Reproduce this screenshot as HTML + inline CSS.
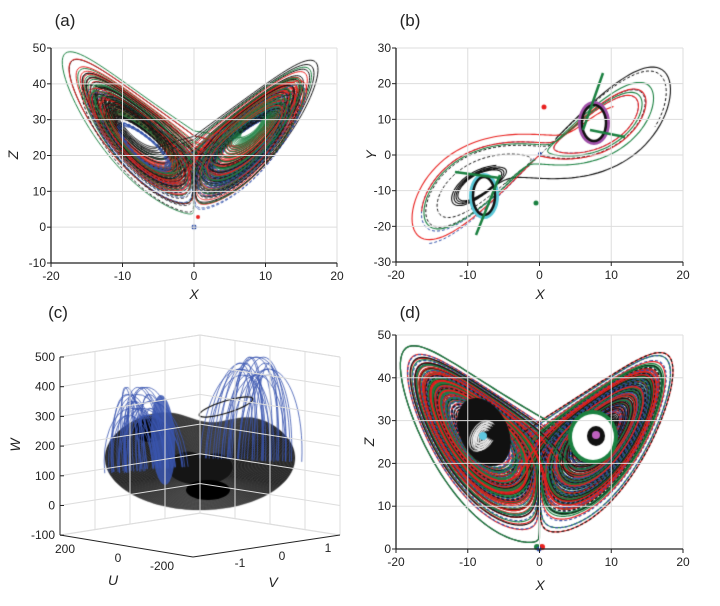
<!DOCTYPE html>
<html><head><meta charset="utf-8"><style>
html,body{margin:0;padding:0;background:#fff;}
#w{position:relative;width:720px;height:606px;overflow:hidden;font-family:"Liberation Sans",sans-serif;}
canvas,svg{position:absolute;left:0;top:0;}
</style></head><body><div id="w">
<canvas id="c" width="720" height="606"></canvas>
<svg id="s" width="720" height="606" font-family="Liberation Sans, sans-serif" font-size="12" fill="#222"></svg>
</div>
<script>
const cv=document.getElementById('c'),g=cv.getContext('2d');
const S=document.getElementById('s');let svg='';
function T(x,y,t,a,extra){svg+=`<text x="${x}" y="${y}" text-anchor="${a||'middle'}" ${extra||''}>${t}</text>`;}
function L(x1,y1,x2,y2,c,w){svg+=`<line x1="${x1}" y1="${y1}" x2="${x2}" y2="${y2}" stroke="${c}" stroke-width="${w||1}"/>`;}
function axes(l,r,t,b,xt,yt){
  const nx=xt.length,ny=yt.length;
  for(let i=0;i<nx;i++){const x=l+(r-l)*i/(nx-1);L(x,t,x,b,'#ddd');T(x,b+17,xt[i]);L(x,b,x,b+4,'#222');}
  for(let j=0;j<ny;j++){const y=t+(b-t)*j/(ny-1);L(l,y,r,y,'#ddd');T(l-5,y+4,yt[j],'end');L(l-4,y,l,y,'#222');}
  L(l,t,l,b,'#222',1.3);L(l,b,r,b,'#222',1.3);
}
function lorenz(x,y,z,n,dt,r){const out=[];r=r||28;
  for(let i=0;i<n;i++){const f=(a,b,c)=>[10*(b-a),a*(r-c)-b,a*b-8/3*c];
    const k1=f(x,y,z),k2=f(x+dt/2*k1[0],y+dt/2*k1[1],z+dt/2*k1[2]),k3=f(x+dt/2*k2[0],y+dt/2*k2[1],z+dt/2*k2[2]),k4=f(x+dt*k3[0],y+dt*k3[1],z+dt*k3[2]);
    x+=dt/6*(k1[0]+2*k2[0]+2*k3[0]+k4[0]);y+=dt/6*(k1[1]+2*k2[1]+2*k3[1]+k4[1]);z+=dt/6*(k1[2]+2*k2[2]+2*k3[2]+k4[2]);out.push([x,y,z]);}
  return out;}
function draw(pts,mx,my,col,w,dash){g.save();g.beginPath();g.strokeStyle=col;g.lineWidth=w;g.setLineDash(dash||[]);
  pts.forEach((p,i)=>{const X=mx(p),Y=my(p);i?g.lineTo(X,Y):g.moveTo(X,Y);});g.stroke();g.restore();}
function mix(trajs,cols,mx,my,w,chunk){const n=Math.max(...trajs.map(t=>t.length));
  for(let s=0;s<n;s+=chunk){trajs.forEach((t,i)=>{if(s<t.length)draw(t.slice(s,s+chunk+1),mx,my,cols[i][0],w,cols[i][1]);});}}
function dot(x,y,r,c){g.beginPath();g.fillStyle=c;g.arc(x,y,r,0,7);g.fill();}
const base=lorenz(1,1,20,60000,0.005,28).slice(500);
// panel a
{const l=51,r=337,t=48,b=263;axes(l,r,t,b,['-20','-10','0','10','20'],['50','40','30','20','10','0','-10']);
 const mx=p=>l+(p[0]*0.95+20)*(r-l)/40, my=p=>t+(50-(p[2]*0.8+2+Math.abs(p[0])*0.5))*(b-t)/60;
 g.save();g.beginPath();g.rect(l,t,r-l,b-t);g.clip();
 const sp=[[-10,-12,35,22],[10,12,35,22.5],[-6,-6,30,23],[8,9,30,23.5],[-12,-5,35,24],[12,5,35,24.5]];
 const tr=sp.map(s=>lorenz(s[0],s[1],s[2],6000,0.005,s[3]));
 tr.push(base.slice(2000,8000),base.slice(10000,16000),base.slice(18000,23000));
 const sc=[['#3050a8',[3,2]],['#111',[3,2]],['#111',[3,2]],['#3050a8',[3,2]],['#1a8040',[]],['#e8201e',[]],['#111',[]],['#1a8040',[]],['#e8201e',[]]];
 mix(tr,sc,mx,my,1,300);
 g.restore();dot(194,227,2.5,'#3050a8');dot(198,217,2,'#e8201e');
 T(65,26,'(a)','middle','font-size="17"');T(194,299,'X','middle','font-size="14" font-style="italic"');
 T(0,0,'Z','middle','font-size="14" font-style="italic" transform="translate(18,155) rotate(-90)"');}
// panel b
{const l=396,r=683,t=48,b=262;axes(l,r,t,b,['-20','-10','0','10','20'],['30','20','10','0','-10','-20','-30']);
 const mx=p=>l+(p[0]+20)*(r-l)/40, my=p=>t+(30-p[1])*(b-t)/60;
 g.save();g.beginPath();g.rect(l,t,r-l,b-t);g.clip();
 draw(base.slice(3000,3600),mx,my,'#3050a8',1,[3,2]);
 draw(base.slice(5200,5800),mx,my,'#111',1,[3,2]);
 draw(base.slice(7100,7700),mx,my,'#111',1.1);
 draw(base.slice(9300,9900),mx,my,'#e8201e',1.1);
 draw(base.slice(11000,11500),mx,my,'#1a8040',1.1);
 g.restore();
 const E=(x,y,rx,ry,c,w)=>{g.beginPath();g.strokeStyle=c;g.lineWidth=w;g.ellipse(x,y,rx,ry,0,0,7);g.stroke();};
 E(484,196,13,21,'#5bc8d8',4);E(484,196,11,19,'#111',2.5);
 E(594,123,14,20,'#a050a8',4);E(594,123,12,18,'#111',2.5);
 g.strokeStyle='#1a8040';g.lineWidth=2.5;g.beginPath();g.moveTo(476,235);g.lineTo(500,175);g.moveTo(603,73);g.lineTo(583,130);g.stroke();
 g.beginPath();g.moveTo(455,172);g.lineTo(500,178);g.moveTo(590,130);g.lineTo(625,137);g.stroke();
 dot(544,107,2.5,'#e8201e');dot(536,203,2.5,'#1a8040');dot(540,154,2,'#3050a8');
 T(410,26,'(b)','middle','font-size="17"');T(540,299,'X','middle','font-size="14" font-style="italic"');
 T(0,0,'Y','middle','font-size="14" font-style="italic" transform="translate(376,155) rotate(-90)"');}
// panel d
{const l=396,r=683,t=335,b=549;axes(l,r,t,b,['-20','-10','0','10','20'],['50','40','30','20','10','0']);
 const mx=p=>l+(p[0]+20)*(r-l)/40, my=p=>b-p[2]*(b-t)/50;
 const cols=[['#3050a8',[3,2]],['#1a8040',[]],['#111',[]],['#e8201e',[]],['#111',[3,2]],['#e8201e',[]],['#1a8040',[]],['#3050a8',[3,2]]];
 const tr=cols.map((c,i)=>base.slice(1000+i*6000,8000+i*6000));
 mix(tr,cols,mx,my,1.2,300);
 g.fillStyle='#111';g.beginPath();g.ellipse(484,432,24,36,-0.45,0,7);g.fill();
 g.strokeStyle='#fff';g.lineWidth=0.6;for(let i=0;i<25;i++){g.beginPath();g.ellipse(483+Math.sin(i)*2,436,3+i*0.3,6+i*0.45,0.5,0,5);g.stroke();}
 dot(483,436,4,'#60c8e0');
 g.fillStyle='#1a8040';g.beginPath();g.ellipse(593,437,25,27,0,0,7);g.fill();
 g.fillStyle='#fff';g.beginPath();g.ellipse(593,437,21,23,0,0,7);g.fill();
 g.fillStyle='#111';g.beginPath();g.ellipse(596,436,9,10,0,0,7);g.fill();
 dot(596,435,4,'#c060c0');
 dot(537,547,3,'#1a8040');dot(542,547,3,'#e8201e');dot(539,549,2.5,'#3050a8');
 T(410,318,'(d)','middle','font-size="17"');T(540,590,'X','middle','font-size="14" font-style="italic"');
 T(0,0,'Z','middle','font-size="14" font-style="italic" transform="translate(374,442) rotate(-90)"');}
// panel c
{const G='#ddd';
 L(60,357,200,335,G);L(200,335,340,357,G);L(200,335,200,513,G);L(60,535,200,513,G);L(200,513,340,535,G);L(340,357,340,535,G);
 for(let j=0;j<7;j++){const y=357+j*29.7;L(60,y,200,y-22,G);L(200,y-22,340,y,G);}
 for(let i=1;i<4;i++){L(60+i*35,357-i*5.5,60+i*35,535-i*5.5,G);L(200+i*35,335+i*5.5,200+i*35,513+i*5.5,G);}
 L(60,357,60,535,'#222');L(60,535,193,557,'#222');L(193,557,340,535,'#222');
 ['500','400','300','200','100','0','-100'].forEach((v,j)=>{const y=357+j*29.7;T(55,y+4,v,'end');L(60,y,64,y,'#222');});
 T(65,553,'200');T(118,562,'0');T(162,570,'-200');T(240,567,'-1');T(282,560,'0');T(328,552,'1');
 T(113,585,'U','middle','font-size="14" font-style="italic"');T(273,587,'V','middle','font-size="14" font-style="italic"');
 T(0,0,'W','middle','font-size="14" font-style="italic" transform="translate(20,445) rotate(-90)"');
 T(58,318,'(c)','middle','font-size="17"');
 function kid(s,dy){const pts=[];for(let a=0;a<=6.3;a+=0.04){const sa=Math.sin(a),ca=Math.cos(a);
   const x=200+95*s*ca, y=458+dy+(sa<0?52*s*sa+ 16*s*Math.exp(-(ca-0.1)*(ca-0.1)*8):52*s*sa);pts.push([x,y]);}return pts;}
 g.fillStyle='#151515';g.beginPath();kid(1,0).forEach((p,i)=>i?g.lineTo(p[0],p[1]):g.moveTo(p[0],p[1]));g.fill();
 g.lineWidth=0.4;g.strokeStyle='#777';
 for(let k=0;k<45;k++){const s=0.35+0.65*k/44;g.beginPath();kid(s,(1-s)*14).forEach((p,i)=>i?g.lineTo(p[0],p[1]):g.moveTo(p[0],p[1]));g.stroke();}
 g.fillStyle='#000';g.beginPath();g.ellipse(150,430,16,12,0,0,7);g.fill();
 g.beginPath();g.ellipse(208,490,22,10,0,0,7);g.fill();
 g.strokeStyle='#3a56b0';g.lineWidth=0.8;
 for(let i=0;i<30;i++){const cx=145+Math.sin(i*1.7)*12, w=8+(i%7)*4, h=55+(i%5)*7;
  g.beginPath();g.ellipse(cx,470,w,h,-0.1,Math.PI,Math.PI*2);g.stroke();}
 for(let i=0;i<22;i++){const cx=250+Math.sin(i*2.3)*15, w=12+(i%6)*5, h=85+(i%4)*6;
  g.beginPath();g.ellipse(cx,460,w,h,0.05,Math.PI,Math.PI*2);g.stroke();}
 g.fillStyle='rgba(58,86,176,0.85)';g.beginPath();g.ellipse(163,440,12,45,-0.05,0,7);g.fill();
 g.strokeStyle='#111';g.lineWidth=1.2;g.beginPath();g.ellipse(226,407,28,6,-0.3,0,7);g.stroke();
}
S.innerHTML=svg;
</script></body></html>
